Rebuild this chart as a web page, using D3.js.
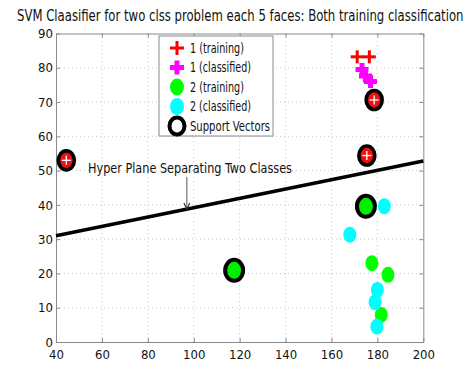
<!DOCTYPE html>
<html><head><meta charset="utf-8">
<script src="https://cdn.jsdelivr.net/npm/d3@7"></script>
<style>body{margin:0;background:#fff}svg{display:block}text{font-family:"Liberation Sans Narrow","DejaVu Sans Condensed",sans-serif}</style>
</head><body><svg id="c" width="474" height="383"></svg>
<script>
const titleText = "SVM Claasifier for two clss problem each 5 faces: Both training classification";
const xTicks = [40,60,80,100,120,140,160,180,200];
const yTicks = [0,10,20,30,40,50,60,70,80,90];
const class1Train = [[171.2,83.2],[176.5,83.2],[178.6,70.6],[175.4,54.4],[44.5,53.0]];
const class1Class = [[173.3,79.5],[174.8,77.6],[177.0,76.0]];
const class2Train = [[175.0,39.6],[117.6,20.9],[177.6,23.0],[184.6,19.6],[181.7,7.9]];
const class2Class = [[183.0,39.6],[168.0,31.3],[180.0,15.2],[179.0,11.6],[179.8,4.5]];
const supportVectors = [[178.6,70.6],[175.4,54.4],[44.5,53.0],[175.0,39.6],[117.6,20.9]];
const hyperplane = [[40,31.0],[200,52.8]];
const legendLabels = ["1 (training)","1 (classified)","2 (training)","2 (classified)","Support Vectors"];
const legendWidths = [54,61,54,61,80];
const annotation = "Hyper Plane Separating Two Classes";
const arrowAt = [97,38.5];

const svg = d3.select("#c");
const x = d3.scaleLinear().domain([40,200]).range([56,423.3]);
const y = d3.scaleLinear().domain([0,90]).range([342,33.5]);
const gray = "#8a8a8a";

// grid
const g = svg.append("g");
g.selectAll(".vg").data(xTicks.slice(1,-1)).join("line")
 .attr("x1",d=>x(d)).attr("x2",d=>x(d)).attr("y1",y(0)).attr("y2",y(90))
 .attr("stroke","#c8c8c8").attr("stroke-width",1).attr("stroke-dasharray","1,3");
g.selectAll(".hg").data(yTicks.slice(1,-1)).join("line")
 .attr("y1",d=>y(d)).attr("y2",d=>y(d)).attr("x1",x(40)).attr("x2",x(200))
 .attr("stroke","#c8c8c8").attr("stroke-width",1).attr("stroke-dasharray","1,3");

// axes
const xa = svg.append("g").attr("transform",`translate(0,${y(0)})`)
 .call(d3.axisBottom(x).tickValues(xTicks).tickSizeInner(-4).tickSizeOuter(0).tickPadding(8));
const xt = svg.append("g").attr("transform",`translate(0,${y(90)})`)
 .call(d3.axisTop(x).tickValues(xTicks).tickSizeInner(-4).tickSizeOuter(0).tickFormat(""));
const ya = svg.append("g").attr("transform",`translate(${x(40)},0)`)
 .call(d3.axisLeft(y).tickValues(yTicks).tickSizeInner(-4).tickSizeOuter(0).tickPadding(3));
const yr = svg.append("g").attr("transform",`translate(${x(200)},0)`)
 .call(d3.axisRight(y).tickValues(yTicks).tickSizeInner(-4).tickSizeOuter(0).tickFormat(""));
[xa,xt,ya,yr].forEach(a=>{a.selectAll("path,line").attr("stroke",gray);
 a.selectAll("text").attr("fill","#111").attr("font-size",13).style("font-family",'"Liberation Sans Narrow","DejaVu Sans Condensed",sans-serif');});
xa.selectAll("text").attr("dy","0.71em");

// hyperplane
svg.append("line").attr("x1",x(hyperplane[0][0])).attr("y1",y(hyperplane[0][1]))
 .attr("x2",x(hyperplane[1][0])).attr("y2",y(hyperplane[1][1]))
 .attr("stroke","#000").attr("stroke-width",3.5);

function plus(sel, data, color, half, sw){
  const gg = sel.append("g");
  data.forEach(d=>{
    const cx=x(d[0]), cy=y(d[1]);
    gg.append("line").attr("x1",cx-half).attr("x2",cx+half).attr("y1",cy).attr("y2",cy).attr("stroke",color).attr("stroke-width",sw);
    gg.append("line").attr("x1",cx).attr("x2",cx).attr("y1",cy-half).attr("y2",cy+half).attr("stroke",color).attr("stroke-width",sw);
  });
}
function dots(sel,data,color){
  sel.append("g").selectAll("ellipse").data(data).join("ellipse")
   .attr("cx",d=>x(d[0])).attr("cy",d=>y(d[1])).attr("rx",6.5).attr("ry",8).attr("fill",color);
}
dots(svg,class2Train,"#00ff00");
dots(svg,class2Class,"#00ffff");
plus(svg,class1Class,"#ff00ff",6.5,5);
plus(svg,class1Train.filter(d=>!supportVectors.some(s=>s[0]===d[0]&&s[1]===d[1])),"#ff0000",6.5,3);

// support vectors
const sv = svg.append("g");
supportVectors.forEach(d=>{
  const cx=x(d[0]), cy=y(d[1]);
  const isRed = class1Train.some(s=>s[0]===d[0]&&s[1]===d[1]);
  sv.append("ellipse").attr("cx",cx).attr("cy",cy).attr("rx",isRed?8:9).attr("ry",isRed?9.5:10.5)
    .attr("fill",isRed?"#ee1111":"#00ee00").attr("stroke","#000").attr("stroke-width",isRed?3.6:4);
  if(isRed){
    sv.append("line").attr("x1",cx-4.5).attr("x2",cx+4.5).attr("y1",cy).attr("y2",cy).attr("stroke","#fff").attr("stroke-width",1.3);
    sv.append("line").attr("x1",cx).attr("x2",cx).attr("y1",cy-4.5).attr("y2",cy+4.5).attr("stroke","#fff").attr("stroke-width",1.3);
  }
});

// annotation
svg.append("text").attr("x",88).attr("y",173).attr("font-size",14).attr("fill","#111")
 .attr("textLength",204).attr("lengthAdjust","spacingAndGlyphs").text(annotation);
svg.append("line").attr("x1",x(arrowAt[0])).attr("x2",x(arrowAt[0])).attr("y1",177).attr("y2",y(arrowAt[1])-1)
 .attr("stroke","#555").attr("stroke-width",1);
svg.append("path").attr("d",`M${x(arrowAt[0])-3},${y(arrowAt[1])-7} L${x(arrowAt[0])},${y(arrowAt[1])-1} L${x(arrowAt[0])+3},${y(arrowAt[1])-7}`)
 .attr("fill","none").attr("stroke","#333").attr("stroke-width",1.2);

// legend
const lg = svg.append("g");
lg.append("rect").attr("x",159).attr("y",36).attr("width",114).attr("height",100).attr("fill","#fff").attr("stroke",gray).attr("stroke-width",1);
const ly = d3.scalePoint().domain(legendLabels).range([48,126]);
const mx = 177;
legendLabels.forEach((lab,i)=>{
  const cy = ly(lab);
  if(i===0||i===1){
    const c = i===0?"#ff0000":"#ff00ff", sw = i===0?3:5, h=7;
    lg.append("line").attr("x1",mx-h).attr("x2",mx+h).attr("y1",cy).attr("y2",cy).attr("stroke",c).attr("stroke-width",sw);
    lg.append("line").attr("x1",mx).attr("x2",mx).attr("y1",cy-h).attr("y2",cy+h).attr("stroke",c).attr("stroke-width",sw);
  } else if(i===2||i===3){
    lg.append("ellipse").attr("cx",mx).attr("cy",cy).attr("rx",7).attr("ry",8.5).attr("fill",i===2?"#00ff00":"#00ffff");
  } else {
    lg.append("ellipse").attr("cx",mx).attr("cy",cy).attr("rx",7.5).attr("ry",8.5).attr("fill","none").attr("stroke","#000").attr("stroke-width",4);
  }
  lg.append("text").attr("x",190).attr("y",cy).attr("dy","0.35em").attr("font-size",13.5).attr("fill","#111")
   .attr("textLength",legendWidths[i]).attr("lengthAdjust","spacingAndGlyphs").text(lab);
});

// title (scaled horizontally to fit the reference width)
const tg = svg.append("g");
const tt = tg.append("text").attr("x",0).attr("y",0).attr("font-size",15).attr("fill","#111").text(titleText);
const tw = tt.node().getComputedTextLength();
tg.attr("transform",`translate(17,21) scale(${447/tw},1)`);
</script></body></html>
